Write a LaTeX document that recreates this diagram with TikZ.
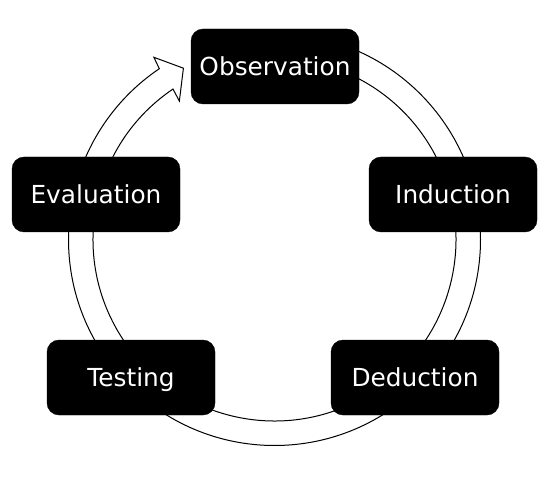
\documentclass[tikz,border=0pt]{standalone}
\usepackage{fontspec}
\setmainfont{DejaVu Sans}
\begin{document}
\begin{tikzpicture}[x=1pt,y=1pt,
  stage/.style={fill=black, draw=black, rounded corners=12pt, minimum width=168pt, minimum height=75pt,
    text=white, font=\fontsize{24.8}{28}\selectfont, text height=18pt, text depth=0pt, inner sep=0pt},
  band/.style={draw=black, fill=white, line width=1pt}]
\useasboundingbox (0,0) rectangle (549,480);
\begin{scope}[shift={(274.5,240.5)}]
\draw[band] (90:206) arc[start angle=90, end angle=-236, radius=206]
  -- (-236.5:218.5) -- (-242:194) -- (-235.5:168) -- (-236:181.5)
  arc[start angle=-236, end angle=90, radius=181.5] -- cycle;
\end{scope}
\node[stage] (obs) at (275,413.5) {Observation};
\node[stage] (ind) at (453,285.5) {Induction};
\node[stage] (ded) at (415,102.5) {Deduction};
\node[stage] (tes) at (131,102.5) {Testing};
\node[stage] (eva) at (96,285.5) {Evaluation};
\end{tikzpicture}
\end{document}
